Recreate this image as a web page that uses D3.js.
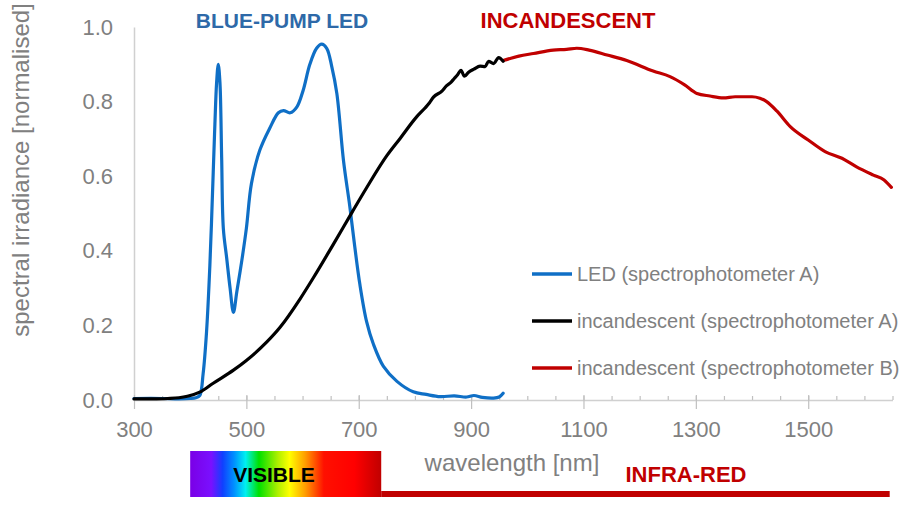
<!DOCTYPE html>
<html>
<head>
<meta charset="utf-8">
<script src="https://cdn.jsdelivr.net/npm/d3@7"></script>
<style>
  body { margin: 0; background: #fff; }
  svg { display: block; font-family: 'Liberation Sans', Arial, sans-serif; }
</style>
</head>
<body>
<svg id="chart" width="911" height="516"></svg>
<script>
// LED (spectrophotometer A)
const ledWl = [300, 350, 380, 400, 410, 417, 423, 429, 435, 441, 444, 447, 450, 453, 456, 459, 465, 471, 477, 483, 492, 500, 509, 524, 542, 557, 566, 578, 590, 601, 613, 625, 634, 643, 652, 661, 673, 684, 693, 702, 714, 726, 744, 768, 797, 820, 845, 870, 892, 905, 920, 940, 950, 957]
const ledVal = [0.004, 0.004, 0.003, 0.004, 0.006, 0.012, 0.07, 0.18, 0.36, 0.61, 0.74, 0.85, 0.90, 0.85, 0.65, 0.46, 0.38, 0.30, 0.235, 0.29, 0.375, 0.46, 0.58, 0.67, 0.73, 0.77, 0.776, 0.77, 0.786, 0.83, 0.90, 0.943, 0.954, 0.943, 0.894, 0.822, 0.64, 0.52, 0.41, 0.31, 0.21, 0.15, 0.09, 0.05, 0.022, 0.015, 0.009, 0.011, 0.008, 0.012, 0.007, 0.005, 0.008, 0.018]

// incandescent (spectrophotometer A)
const incAWl = [300, 340, 360, 380, 395, 417, 441, 477, 500, 536, 560, 596, 619, 655, 688, 714, 750, 774, 803, 818, 826, 833, 848, 856, 863, 870, 876, 882, 888, 895, 905, 916, 925, 931, 940, 949, 957]
const incAVal = [0.003, 0.003, 0.004, 0.006, 0.010, 0.021, 0.045, 0.080, 0.106, 0.155, 0.195, 0.272, 0.327, 0.418, 0.503, 0.569, 0.655, 0.702, 0.759, 0.783, 0.797, 0.812, 0.828, 0.842, 0.850, 0.862, 0.872, 0.884, 0.868, 0.878, 0.887, 0.895, 0.894, 0.908, 0.902, 0.918, 0.908]

// incandescent (spectrophotometer B)
const incBWl = [957, 985, 1011, 1046, 1070, 1088, 1110, 1142, 1177, 1224, 1254, 1280, 1302, 1325, 1349, 1370, 1400, 1414, 1426, 1444, 1468, 1500, 1530, 1560, 1586, 1616, 1635, 1648]
const incBVal = [0.910, 0.922, 0.929, 0.938, 0.940, 0.943, 0.938, 0.925, 0.910, 0.882, 0.867, 0.845, 0.822, 0.815, 0.810, 0.813, 0.813, 0.809, 0.800, 0.775, 0.733, 0.697, 0.666, 0.648, 0.625, 0.603, 0.590, 0.570]

const seriesNames = ['LED (spectrophotometer A)', 'incandescent (spectrophotometer A)', 'incandescent (spectrophotometer B)']
const xMajorTicks = [300, 500, 700, 900, 1100, 1300, 1500]
const yTicks = [0, 0.2, 0.4, 0.6, 0.8, 1.0]
const visibleBand = [400, 740]
const infraRedBand = [740, 1645]

const blue = '#0f6fc6'
const red = '#c00000'
const gray = '#808080'

const svg = d3.select('#chart')

const x = d3.scaleLinear().domain([300, 1650]).range([134, 892.5])
const y = d3.scaleLinear().domain([0, 1]).range([400, 27])

// y axis
const yAxis = svg.append('g')
  .attr('transform', 'translate(134,0)')
  .call(d3.axisLeft(y).tickValues(yTicks).tickSize(0).tickPadding(21).tickFormat(d3.format('.1f')))
yAxis.select('.domain').attr('stroke', '#d0d0d0').attr('stroke-width', 1.5)
yAxis.selectAll('text').attr('fill', gray).style('font-size', '22px')

// x axis: minor ticks every 50 nm, major every 200 nm
const xMinor = svg.append('g')
  .attr('transform', 'translate(0,400)')
  .call(d3.axisBottom(x).tickValues(d3.range(350, 1651, 50)).tickSizeInner(-4).tickSizeOuter(0).tickFormat(''))
xMinor.select('.domain').attr('stroke', '#d0d0d0').attr('stroke-width', 1.5)
xMinor.selectAll('line').attr('stroke', '#c0c0c0').attr('stroke-width', 1.2)

const xMajor = svg.append('g')
  .attr('transform', 'translate(0,400)')
  .call(d3.axisBottom(x).tickValues(xMajorTicks).tickSize(9).tickPadding(12).tickFormat(d3.format('d')))
xMajor.select('.domain').remove()
xMajor.selectAll('line').attr('y1', -5).attr('stroke', '#c0c0c0').attr('stroke-width', 1.2)
xMajor.selectAll('text').attr('fill', gray).style('font-size', '22px')

// axis titles
svg.append('text')
  .attr('transform', 'translate(29,170) rotate(-90)')
  .attr('text-anchor', 'middle')
  .attr('fill', gray)
  .style('font-size', '24px')
  .text('spectral irradiance [normalised]')

svg.append('text')
  .attr('x', 512)
  .attr('y', 471)
  .attr('text-anchor', 'middle')
  .attr('fill', gray)
  .style('font-size', '24px')
  .text('wavelength [nm]')

// curves
const ledLine = d3.line()
  .x(d => x(d[0]))
  .y(d => y(d[1]))
  .curve(d3.curveCatmullRom.alpha(0.5))

const lampLine = d3.line()
  .x(d => x(d[0]))
  .y(d => y(d[1]))
  .curve(d3.curveMonotoneX)

const series = [
  { wl: ledWl, val: ledVal, color: blue, line: ledLine },
  { wl: incAWl, val: incAVal, color: '#000', line: lampLine },
  { wl: incBWl, val: incBVal, color: red, line: lampLine }
]

const drawOrder = [0, 2, 1]
drawOrder.forEach(i => {
  const s = series[i]
  svg.append('path')
    .datum(s.wl.map((w, j) => [w, s.val[j]]))
    .attr('fill', 'none')
    .attr('stroke', s.color)
    .attr('stroke-width', 3.2)
    .attr('stroke-linejoin', 'round')
    .attr('stroke-linecap', 'round')
    .attr('d', s.line)
})

// legend
const legend = svg.append('g')
seriesNames.forEach((name, i) => {
  const ly = 274 + i * 47
  legend.append('line')
    .attr('x1', 532).attr('x2', 572)
    .attr('y1', ly).attr('y2', ly)
    .attr('stroke', series[i].color)
    .attr('stroke-width', 3.5)
  legend.append('text')
    .attr('x', 577)
    .attr('y', ly + 7)
    .attr('fill', gray)
    .style('font-size', '20px')
    .text(name)
})

// titles
svg.append('text')
  .attr('x', 282).attr('y', 28)
  .attr('text-anchor', 'middle')
  .attr('fill', '#2e69a8')
  .style('font-size', '21px').style('font-weight', 'bold')
  .text('BLUE-PUMP LED')

svg.append('text')
  .attr('x', 568).attr('y', 28)
  .attr('text-anchor', 'middle')
  .attr('fill', red)
  .style('font-size', '22px').style('font-weight', 'bold')
  .text('INCANDESCENT')

// visible band
const defs = svg.append('defs')
const grad = defs.append('linearGradient').attr('id', 'spectrum')
const stops = [
  [0, '#7a00e6'], [0.11, '#7a10ff'], [0.17, '#1040ff'], [0.23, '#0090ff'],
  [0.29, '#00f0f0'], [0.36, '#00e000'], [0.46, '#b0f000'], [0.52, '#ffff00'],
  [0.6, '#ffa000'], [0.7, '#ff1000'], [0.86, '#ff0000'], [1, '#c00000']
]
stops.forEach(s => grad.append('stop').attr('offset', s[0]).attr('stop-color', s[1]))

svg.append('rect')
  .attr('x', x(visibleBand[0]))
  .attr('y', 451)
  .attr('width', x(visibleBand[1]) - x(visibleBand[0]))
  .attr('height', 46)
  .attr('fill', 'url(#spectrum)')

svg.append('text')
  .attr('x', 274).attr('y', 482)
  .attr('text-anchor', 'middle')
  .attr('fill', '#000')
  .style('font-size', '21px').style('font-weight', 'bold')
  .text('VISIBLE')

// infra-red band
svg.append('rect')
  .attr('x', x(infraRedBand[0]))
  .attr('y', 491)
  .attr('width', x(infraRedBand[1]) - x(infraRedBand[0]))
  .attr('height', 6)
  .attr('fill', red)

svg.append('text')
  .attr('x', 686).attr('y', 482)
  .attr('text-anchor', 'middle')
  .attr('fill', red)
  .style('font-size', '22px').style('font-weight', 'bold')
  .text('INFRA-RED')
</script>
</body>
</html>
